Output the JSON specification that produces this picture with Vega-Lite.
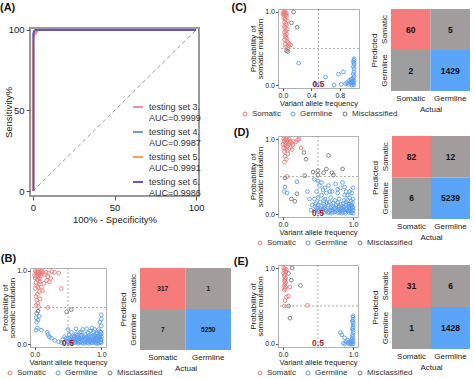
{
"$schema": "https://vega.github.io/schema/vega-lite/v6.json",
"padding": {"left": 0, "top": 2, "right": 1, "bottom": 0},
"config": {
 "font": "Liberation Sans",
 "view": {"stroke": "#b0b0b0", "strokeWidth": 1},
 "axis": {"grid": false, "domain": false, "tickColor": "#555", "tickSize": 2.5, "labelFontSize": 7, "labelColor": "#222", "titleFontSize": 8, "titleFontWeight": "normal", "titleColor": "#222", "labelPadding": 1, "titlePadding": 2, "labelFlush": false, "labelOverlap": false},
 "title": {"fontSize": 11, "fontWeight": "bold", "anchor": "start", "frame": "bounds", "color": "#111"},
 "legend": {"labelFontSize": 8, "labelColor": "#333", "symbolSize": 16, "symbolStrokeWidth": 1}
},
"datasets": {
 "roc": [
  {"set": "testing set 3.|AUC=0.9999", "i": 1, "fpr": 0, "tpr": 0},
  {"set": "testing set 3.|AUC=0.9999", "i": 2, "fpr": 0, "tpr": 97},
  {"set": "testing set 3.|AUC=0.9999", "i": 3, "fpr": 0.5, "tpr": 98.5},
  {"set": "testing set 3.|AUC=0.9999", "i": 4, "fpr": 1.5, "tpr": 100},
  {"set": "testing set 3.|AUC=0.9999", "i": 5, "fpr": 100, "tpr": 100},
  {"set": "testing set 4.|AUC=0.9987", "i": 1, "fpr": 0, "tpr": 0},
  {"set": "testing set 4.|AUC=0.9987", "i": 2, "fpr": 0, "tpr": 96},
  {"set": "testing set 4.|AUC=0.9987", "i": 3, "fpr": 0.6, "tpr": 98},
  {"set": "testing set 4.|AUC=0.9987", "i": 4, "fpr": 2, "tpr": 99.5},
  {"set": "testing set 4.|AUC=0.9987", "i": 5, "fpr": 3, "tpr": 100},
  {"set": "testing set 4.|AUC=0.9987", "i": 6, "fpr": 100, "tpr": 100},
  {"set": "testing set 5.|AUC=0.9991", "i": 1, "fpr": 0, "tpr": 0},
  {"set": "testing set 5.|AUC=0.9991", "i": 2, "fpr": 0, "tpr": 95},
  {"set": "testing set 5.|AUC=0.9991", "i": 3, "fpr": 0.8, "tpr": 96.5},
  {"set": "testing set 5.|AUC=0.9991", "i": 4, "fpr": 1.8, "tpr": 97.5},
  {"set": "testing set 5.|AUC=0.9991", "i": 5, "fpr": 2.8, "tpr": 99.5},
  {"set": "testing set 5.|AUC=0.9991", "i": 6, "fpr": 4, "tpr": 100},
  {"set": "testing set 5.|AUC=0.9991", "i": 7, "fpr": 100, "tpr": 100},
  {"set": "testing set 6.|AUC=0.9986", "i": 1, "fpr": 0.4, "tpr": 0},
  {"set": "testing set 6.|AUC=0.9986", "i": 2, "fpr": 0.4, "tpr": 98},
  {"set": "testing set 6.|AUC=0.9986", "i": 3, "fpr": 0.8, "tpr": 99.5},
  {"set": "testing set 6.|AUC=0.9986", "i": 4, "fpr": 1.5, "tpr": 100},
  {"set": "testing set 6.|AUC=0.9986", "i": 5, "fpr": 100, "tpr": 100}
 ],
 "hB": [
  {"a": "Somatic", "p": "Somatic", "n": "317", "k": "SS"},
  {"a": "Germline", "p": "Somatic", "n": "1", "k": "SG"},
  {"a": "Somatic", "p": "Germline", "n": "7", "k": "GS"},
  {"a": "Germline", "p": "Germline", "n": "5250", "k": "GG"}
 ],
 "hC": [
  {"a": "Somatic", "p": "Somatic", "n": "60", "k": "SS"},
  {"a": "Germline", "p": "Somatic", "n": "5", "k": "SG"},
  {"a": "Somatic", "p": "Germline", "n": "2", "k": "GS"},
  {"a": "Germline", "p": "Germline", "n": "1429", "k": "GG"}
 ],
 "hD": [
  {"a": "Somatic", "p": "Somatic", "n": "82", "k": "SS"},
  {"a": "Germline", "p": "Somatic", "n": "12", "k": "SG"},
  {"a": "Somatic", "p": "Germline", "n": "6", "k": "GS"},
  {"a": "Germline", "p": "Germline", "n": "5239", "k": "GG"}
 ],
 "hE": [
  {"a": "Somatic", "p": "Somatic", "n": "31", "k": "SS"},
  {"a": "Germline", "p": "Somatic", "n": "6", "k": "SG"},
  {"a": "Somatic", "p": "Germline", "n": "1", "k": "GS"},
  {"a": "Germline", "p": "Germline", "n": "1428", "k": "GG"}
 ],
 "B": [
  {"x":0.01,"y":1.0,"c":"Somatic"},{"x":0.03,"y":0.99,"c":"Somatic"},{"x":0.05,"y":1.0,"c":"Somatic"},{"x":0.07,"y":0.98,"c":"Somatic"},{"x":0.09,"y":0.99,"c":"Somatic"},{"x":0.11,"y":1.0,"c":"Somatic"},{"x":0.02,"y":0.97,"c":"Somatic"},{"x":0.04,"y":0.96,"c":"Somatic"},{"x":0.06,"y":0.95,"c":"Somatic"},{"x":0.08,"y":0.97,"c":"Somatic"},{"x":0.1,"y":0.96,"c":"Somatic"},{"x":0.12,"y":0.98,"c":"Somatic"},{"x":0.0,"y":0.94,"c":"Somatic"},{"x":0.03,"y":0.93,"c":"Somatic"},{"x":0.05,"y":0.92,"c":"Somatic"},{"x":0.07,"y":0.9,"c":"Somatic"},{"x":0.09,"y":0.93,"c":"Somatic"},{"x":0.01,"y":0.9,"c":"Somatic"},{"x":0.04,"y":0.88,"c":"Somatic"},{"x":0.06,"y":0.86,"c":"Somatic"},{"x":0.02,"y":0.84,"c":"Somatic"},{"x":0.08,"y":0.85,"c":"Somatic"},{"x":0.03,"y":0.8,"c":"Somatic"},{"x":0.05,"y":0.78,"c":"Somatic"},{"x":0.01,"y":0.76,"c":"Somatic"},{"x":0.17,"y":0.98,"c":"Somatic"},{"x":0.21,"y":0.97,"c":"Somatic"},{"x":0.26,"y":0.99,"c":"Somatic"},{"x":0.3,"y":0.98,"c":"Somatic"},{"x":0.36,"y":0.97,"c":"Somatic"},{"x":0.15,"y":0.95,"c":"Somatic"},{"x":0.2,"y":0.92,"c":"Somatic"},{"x":0.24,"y":0.9,"c":"Somatic"},{"x":0.18,"y":0.87,"c":"Somatic"},{"x":0.14,"y":0.83,"c":"Somatic"},{"x":0.22,"y":0.85,"c":"Somatic"},{"x":0.4,"y":0.76,"c":"Somatic"},{"x":0.1,"y":0.78,"c":"Somatic"},{"x":0.07,"y":0.72,"c":"Somatic"},{"x":0.04,"y":0.68,"c":"Somatic"},{"x":0.08,"y":0.62,"c":"Somatic"},{"x":0.03,"y":0.6,"c":"Somatic"},{"x":0.05,"y":0.56,"c":"Somatic"},{"x":0.02,"y":0.53,"c":"Somatic"},{"x":0.06,"y":0.51,"c":"Somatic"},{"x":0.2,"y":0.5,"c":"Somatic"},{"x":0.12,"y":0.73,"c":"Somatic"},{"x":0.02,"y":0.65,"c":"Somatic"},
  {"x":0.05,"y":0.45,"c":"Misclassified"},{"x":0.48,"y":0.44,"c":"Misclassified"},{"x":0.55,"y":0.47,"c":"Misclassified"},{"x":0.55,"y":0.03,"c":"Misclassified"},{"x":0.03,"y":0.42,"c":"Misclassified"},
  {"x":0.02,"y":0.36,"c":"Germline"},{"x":0.05,"y":0.33,"c":"Germline"},{"x":0.03,"y":0.3,"c":"Germline"},{"x":0.07,"y":0.38,"c":"Germline"},{"x":0.04,"y":0.22,"c":"Germline"},{"x":0.02,"y":0.19,"c":"Germline"},{"x":0.1,"y":0.19,"c":"Germline"},{"x":0.2,"y":0.13,"c":"Germline"},{"x":0.22,"y":0.1,"c":"Germline"},{"x":0.25,"y":0.08,"c":"Germline"},{"x":0.19,"y":0.16,"c":"Germline"},{"x":0.3,"y":0.05,"c":"Germline"},{"x":0.4,"y":0.02,"c":"Germline"},{"x":0.42,"y":0.06,"c":"Germline"},{"x":0.45,"y":0.1,"c":"Germline"},{"x":0.5,"y":0.2,"c":"Germline"},{"x":0.52,"y":0.13,"c":"Germline"},{"x":0.48,"y":0.04,"c":"Germline"},{"x":0.55,"y":0.16,"c":"Germline"},{"x":0.57,"y":0.1,"c":"Germline"},{"x":0.6,"y":0.07,"c":"Germline"},{"x":0.62,"y":0.21,"c":"Germline"},{"x":0.64,"y":0.12,"c":"Germline"},{"x":0.66,"y":0.04,"c":"Germline"},{"x":0.68,"y":0.16,"c":"Germline"},{"x":0.7,"y":0.09,"c":"Germline"},{"x":0.72,"y":0.2,"c":"Germline"},{"x":0.74,"y":0.05,"c":"Germline"},{"x":0.76,"y":0.13,"c":"Germline"},{"x":0.78,"y":0.21,"c":"Germline"},{"x":0.8,"y":0.1,"c":"Germline"},{"x":0.82,"y":0.06,"c":"Germline"},{"x":0.84,"y":0.18,"c":"Germline"},{"x":0.86,"y":0.22,"c":"Germline"},{"x":0.88,"y":0.12,"c":"Germline"},{"x":0.9,"y":0.05,"c":"Germline"},{"x":0.92,"y":0.14,"c":"Germline"},{"x":0.94,"y":0.08,"c":"Germline"},{"x":0.96,"y":0.2,"c":"Germline"},{"x":0.98,"y":0.3,"c":"Germline"},{"x":1.0,"y":0.4,"c":"Germline"},{"x":1.0,"y":0.34,"c":"Germline"},{"x":1.0,"y":0.25,"c":"Germline"},{"x":0.99,"y":0.16,"c":"Germline"},{"x":1.0,"y":0.1,"c":"Germline"},{"x":0.5,"y":0.03,"c":"Germline"},{"x":0.53,"y":0.06,"c":"Germline"},{"x":0.56,"y":0.01,"c":"Germline"},{"x":0.58,"y":0.04,"c":"Germline"},{"x":0.61,"y":0.02,"c":"Germline"},{"x":0.63,"y":0.07,"c":"Germline"},{"x":0.65,"y":0.01,"c":"Germline"},{"x":0.67,"y":0.08,"c":"Germline"},{"x":0.69,"y":0.03,"c":"Germline"},{"x":0.71,"y":0.05,"c":"Germline"},{"x":0.73,"y":0.01,"c":"Germline"},{"x":0.75,"y":0.08,"c":"Germline"},{"x":0.77,"y":0.03,"c":"Germline"},{"x":0.79,"y":0.06,"c":"Germline"},{"x":0.81,"y":0.01,"c":"Germline"},{"x":0.83,"y":0.03,"c":"Germline"},{"x":0.85,"y":0.07,"c":"Germline"},{"x":0.87,"y":0.02,"c":"Germline"},{"x":0.89,"y":0.09,"c":"Germline"},{"x":0.91,"y":0.02,"c":"Germline"},{"x":0.93,"y":0.04,"c":"Germline"},{"x":0.95,"y":0.01,"c":"Germline"},{"x":0.97,"y":0.05,"c":"Germline"},{"x":0.99,"y":0.03,"c":"Germline"},{"x":1.0,"y":0.06,"c":"Germline"},{"x":0.96,"y":0.1,"c":"Germline"},{"x":0.92,"y":0.08,"c":"Germline"},{"x":0.86,"y":0.1,"c":"Germline"},{"x":0.8,"y":0.04,"c":"Germline"},{"x":0.7,"y":0.12,"c":"Germline"},{"x":0.6,"y":0.11,"c":"Germline"},{"x":0.54,"y":0.09,"c":"Germline"},{"x":0.47,"y":0.08,"c":"Germline"},{"x":0.44,"y":0.02,"c":"Germline"},{"x":0.36,"y":0.03,"c":"Germline"},{"x":0.98,"y":0.13,"c":"Germline"},{"x":0.94,"y":0.11,"c":"Germline"},{"x":0.88,"y":0.05,"c":"Germline"},{"x":0.84,"y":0.1,"c":"Germline"},{"x":0.76,"y":0.07,"c":"Germline"},{"x":0.66,"y":0.09,"c":"Germline"},
  {"x":0.51,"y":0.08,"c":"Germline"},{"x":0.53,"y":0.02,"c":"Germline"},{"x":0.55,"y":0.05,"c":"Germline"},{"x":0.57,"y":0.03,"c":"Germline"},{"x":0.59,"y":0.09,"c":"Germline"},{"x":0.61,"y":0.05,"c":"Germline"},{"x":0.63,"y":0.03,"c":"Germline"},{"x":0.65,"y":0.06,"c":"Germline"},{"x":0.67,"y":0.02,"c":"Germline"},{"x":0.69,"y":0.07,"c":"Germline"},{"x":0.71,"y":0.02,"c":"Germline"},{"x":0.73,"y":0.06,"c":"Germline"},{"x":0.75,"y":0.02,"c":"Germline"},{"x":0.77,"y":0.09,"c":"Germline"},{"x":0.79,"y":0.02,"c":"Germline"},{"x":0.81,"y":0.07,"c":"Germline"},{"x":0.83,"y":0.05,"c":"Germline"},{"x":0.85,"y":0.02,"c":"Germline"},{"x":0.87,"y":0.06,"c":"Germline"},{"x":0.89,"y":0.03,"c":"Germline"},{"x":0.91,"y":0.06,"c":"Germline"},{"x":0.93,"y":0.01,"c":"Germline"},{"x":0.95,"y":0.07,"c":"Germline"},{"x":0.97,"y":0.02,"c":"Germline"},{"x":0.99,"y":0.07,"c":"Germline"},{"x":1.0,"y":0.02,"c":"Germline"},{"x":0.98,"y":0.09,"c":"Germline"},{"x":0.9,"y":0.11,"c":"Germline"},{"x":0.82,"y":0.12,"c":"Germline"},{"x":0.74,"y":0.1,"c":"Germline"},{"x":0.64,"y":0.09,"c":"Germline"},{"x":0.58,"y":0.07,"c":"Germline"},{"x":0.62,"y":0.14,"c":"Germline"},{"x":0.7,"y":0.16,"c":"Germline"},{"x":0.8,"y":0.15,"c":"Germline"},{"x":0.88,"y":0.17,"c":"Germline"},{"x":0.94,"y":0.15,"c":"Germline"},{"x":1.0,"y":0.14,"c":"Germline"},{"x":0.97,"y":0.17,"c":"Germline"},{"x":0.9,"y":0.2,"c":"Germline"}
 ],
 "C": [
  {"x":0.01,"y":1.0,"c":"Somatic"},{"x":0.02,"y":0.99,"c":"Somatic"},{"x":0.03,"y":0.98,"c":"Somatic"},{"x":0.0,"y":0.97,"c":"Somatic"},{"x":0.04,"y":0.96,"c":"Somatic"},{"x":0.02,"y":0.95,"c":"Somatic"},{"x":0.05,"y":0.94,"c":"Somatic"},{"x":0.01,"y":0.92,"c":"Somatic"},{"x":0.03,"y":0.9,"c":"Somatic"},{"x":0.06,"y":0.88,"c":"Somatic"},{"x":0.02,"y":0.86,"c":"Somatic"},{"x":0.04,"y":0.84,"c":"Somatic"},{"x":0.05,"y":0.82,"c":"Somatic"},{"x":0.02,"y":0.8,"c":"Somatic"},{"x":0.03,"y":0.78,"c":"Somatic"},{"x":0.06,"y":0.76,"c":"Somatic"},{"x":0.04,"y":0.74,"c":"Somatic"},{"x":0.02,"y":0.72,"c":"Somatic"},{"x":0.05,"y":0.7,"c":"Somatic"},{"x":0.03,"y":0.68,"c":"Somatic"},{"x":0.04,"y":0.66,"c":"Somatic"},{"x":0.05,"y":0.64,"c":"Somatic"},{"x":0.02,"y":0.62,"c":"Somatic"},{"x":0.06,"y":0.6,"c":"Somatic"},{"x":0.07,"y":0.58,"c":"Somatic"},{"x":0.09,"y":0.56,"c":"Somatic"},{"x":0.11,"y":0.55,"c":"Somatic"},{"x":0.08,"y":0.54,"c":"Somatic"},{"x":0.04,"y":0.52,"c":"Somatic"},{"x":0.06,"y":0.5,"c":"Somatic"},{"x":0.03,"y":0.56,"c":"Somatic"},{"x":0.01,"y":0.98,"c":"Somatic"},{"x":0.03,"y":1.0,"c":"Somatic"},{"x":0.05,"y":0.98,"c":"Somatic"},
  {"x":0.15,"y":1.0,"c":"Misclassified"},{"x":0.12,"y":0.85,"c":"Misclassified"},{"x":0.2,"y":0.79,"c":"Misclassified"},{"x":0.05,"y":0.47,"c":"Misclassified"},{"x":0.07,"y":0.46,"c":"Misclassified"},
  {"x":0.22,"y":0.3,"c":"Germline"},{"x":0.6,"y":0.11,"c":"Germline"},{"x":0.45,"y":0.01,"c":"Germline"},{"x":0.48,"y":0.0,"c":"Germline"},{"x":0.52,"y":0.01,"c":"Germline"},{"x":0.72,"y":0.0,"c":"Germline"},{"x":0.78,"y":0.15,"c":"Germline"},{"x":0.85,"y":0.18,"c":"Germline"},{"x":0.82,"y":0.01,"c":"Germline"},{"x":0.88,"y":0.02,"c":"Germline"},{"x":0.9,"y":0.03,"c":"Germline"},{"x":0.92,"y":0.01,"c":"Germline"},{"x":0.94,"y":0.04,"c":"Germline"},{"x":0.95,"y":0.02,"c":"Germline"},{"x":0.96,"y":0.05,"c":"Germline"},{"x":0.97,"y":0.03,"c":"Germline"},{"x":0.98,"y":0.08,"c":"Germline"},{"x":0.99,"y":0.1,"c":"Germline"},{"x":1.0,"y":0.12,"c":"Germline"},{"x":0.99,"y":0.15,"c":"Germline"},{"x":1.0,"y":0.18,"c":"Germline"},{"x":1.0,"y":0.22,"c":"Germline"},{"x":0.99,"y":0.25,"c":"Germline"},{"x":1.0,"y":0.28,"c":"Germline"},{"x":1.0,"y":0.3,"c":"Germline"},{"x":0.99,"y":0.32,"c":"Germline"},{"x":1.0,"y":0.34,"c":"Germline"},{"x":1.0,"y":0.36,"c":"Germline"},{"x":0.98,"y":0.05,"c":"Germline"},{"x":0.99,"y":0.02,"c":"Germline"},{"x":1.0,"y":0.0,"c":"Germline"},{"x":0.97,"y":0.0,"c":"Germline"},{"x":0.93,"y":0.06,"c":"Germline"},{"x":0.96,"y":0.08,"c":"Germline"},{"x":1.0,"y":0.06,"c":"Germline"},{"x":0.99,"y":0.04,"c":"Germline"}
 ],
 "D": [
  {"x":0.01,"y":1.0,"c":"Somatic"},{"x":0.03,"y":0.99,"c":"Somatic"},{"x":0.05,"y":1.0,"c":"Somatic"},{"x":0.07,"y":0.98,"c":"Somatic"},{"x":0.09,"y":1.0,"c":"Somatic"},{"x":0.02,"y":0.97,"c":"Somatic"},{"x":0.04,"y":0.95,"c":"Somatic"},{"x":0.06,"y":0.96,"c":"Somatic"},{"x":0.08,"y":0.94,"c":"Somatic"},{"x":0.1,"y":0.97,"c":"Somatic"},{"x":0.0,"y":0.93,"c":"Somatic"},{"x":0.03,"y":0.92,"c":"Somatic"},{"x":0.05,"y":0.9,"c":"Somatic"},{"x":0.07,"y":0.91,"c":"Somatic"},{"x":0.01,"y":0.88,"c":"Somatic"},{"x":0.04,"y":0.87,"c":"Somatic"},{"x":0.06,"y":0.85,"c":"Somatic"},{"x":0.02,"y":0.83,"c":"Somatic"},{"x":0.12,"y":0.95,"c":"Somatic"},{"x":0.15,"y":0.97,"c":"Somatic"},{"x":0.18,"y":0.96,"c":"Somatic"},{"x":0.21,"y":0.99,"c":"Somatic"},{"x":0.23,"y":1.0,"c":"Somatic"},{"x":0.14,"y":0.92,"c":"Somatic"},{"x":0.11,"y":0.89,"c":"Somatic"},{"x":0.13,"y":0.86,"c":"Somatic"},{"x":0.07,"y":0.8,"c":"Somatic"},{"x":0.03,"y":0.77,"c":"Somatic"},{"x":0.05,"y":0.73,"c":"Somatic"},{"x":0.02,"y":0.69,"c":"Somatic"},{"x":0.26,"y":0.88,"c":"Somatic"},{"x":0.06,"y":0.5,"c":"Somatic"},
  {"x":0.3,"y":0.82,"c":"Misclassified"},{"x":0.33,"y":0.73,"c":"Misclassified"},{"x":0.31,"y":0.51,"c":"Misclassified"},{"x":0.43,"y":0.56,"c":"Misclassified"},{"x":0.5,"y":0.58,"c":"Misclassified"},{"x":0.5,"y":0.52,"c":"Misclassified"},{"x":0.65,"y":0.78,"c":"Misclassified"},{"x":0.62,"y":0.6,"c":"Misclassified"},{"x":0.72,"y":0.52,"c":"Misclassified"},{"x":0.85,"y":0.6,"c":"Misclassified"},{"x":0.03,"y":0.48,"c":"Misclassified"},{"x":0.2,"y":0.27,"c":"Misclassified"},{"x":0.12,"y":0.2,"c":"Misclassified"},{"x":0.17,"y":0.17,"c":"Misclassified"},{"x":0.58,"y":0.55,"c":"Misclassified"},{"x":0.7,"y":0.55,"c":"Misclassified"},
  {"x":0.03,"y":0.36,"c":"Germline"},{"x":0.02,"y":0.3,"c":"Germline"},{"x":0.06,"y":0.28,"c":"Germline"},{"x":0.2,"y":0.43,"c":"Germline"},{"x":0.45,"y":0.46,"c":"Germline"},{"x":0.5,"y":0.44,"c":"Germline"},{"x":0.52,"y":0.38,"c":"Germline"},{"x":0.55,"y":0.42,"c":"Germline"},{"x":0.6,"y":0.35,"c":"Germline"},{"x":0.62,"y":0.28,"c":"Germline"},{"x":0.48,"y":0.3,"c":"Germline"},{"x":0.5,"y":0.22,"c":"Germline"},{"x":0.55,"y":0.25,"c":"Germline"},{"x":0.58,"y":0.18,"c":"Germline"},{"x":0.45,"y":0.2,"c":"Germline"},{"x":0.42,"y":0.12,"c":"Germline"},{"x":0.65,"y":0.38,"c":"Germline"},{"x":0.7,"y":0.3,"c":"Germline"},{"x":0.68,"y":0.22,"c":"Germline"},{"x":0.72,"y":0.15,"c":"Germline"},{"x":0.75,"y":0.4,"c":"Germline"},{"x":0.78,"y":0.28,"c":"Germline"},{"x":0.8,"y":0.2,"c":"Germline"},{"x":0.82,"y":0.35,"c":"Germline"},{"x":0.85,"y":0.42,"c":"Germline"},{"x":0.88,"y":0.25,"c":"Germline"},{"x":0.9,"y":0.3,"c":"Germline"},{"x":0.92,"y":0.18,"c":"Germline"},{"x":0.95,"y":0.22,"c":"Germline"},{"x":0.98,"y":0.28,"c":"Germline"},{"x":1.0,"y":0.35,"c":"Germline"},{"x":0.97,"y":0.12,"c":"Germline"},{"x":0.99,"y":0.08,"c":"Germline"},{"x":0.93,"y":0.1,"c":"Germline"},{"x":0.86,"y":0.14,"c":"Germline"},{"x":0.8,"y":0.1,"c":"Germline"},{"x":0.75,"y":0.08,"c":"Germline"},{"x":0.7,"y":0.05,"c":"Germline"},{"x":0.65,"y":0.12,"c":"Germline"},{"x":0.6,"y":0.08,"c":"Germline"},{"x":0.55,"y":0.1,"c":"Germline"},{"x":0.52,"y":0.05,"c":"Germline"},{"x":0.5,"y":0.12,"c":"Germline"},{"x":0.48,"y":0.08,"c":"Germline"},{"x":0.45,"y":0.04,"c":"Germline"},{"x":0.58,"y":0.02,"c":"Germline"},{"x":0.62,"y":0.04,"c":"Germline"},{"x":0.66,"y":0.02,"c":"Germline"},{"x":0.7,"y":0.01,"c":"Germline"},{"x":0.74,"y":0.03,"c":"Germline"},{"x":0.78,"y":0.02,"c":"Germline"},{"x":0.82,"y":0.04,"c":"Germline"},{"x":0.84,"y":0.01,"c":"Germline"},{"x":0.88,"y":0.03,"c":"Germline"},{"x":0.9,"y":0.06,"c":"Germline"},{"x":0.94,"y":0.02,"c":"Germline"},{"x":0.96,"y":0.04,"c":"Germline"},{"x":1.0,"y":0.01,"c":"Germline"},{"x":1.0,"y":0.05,"c":"Germline"},{"x":0.98,"y":0.02,"c":"Germline"},{"x":0.92,"y":0.04,"c":"Germline"},{"x":0.86,"y":0.06,"c":"Germline"},{"x":0.8,"y":0.06,"c":"Germline"},{"x":0.76,"y":0.12,"c":"Germline"},{"x":0.68,"y":0.08,"c":"Germline"},{"x":0.63,"y":0.15,"c":"Germline"},{"x":0.57,"y":0.06,"c":"Germline"},{"x":0.53,"y":0.16,"c":"Germline"},{"x":0.47,"y":0.14,"c":"Germline"},{"x":0.6,"y":0.2,"c":"Germline"},{"x":0.72,"y":0.1,"c":"Germline"},{"x":0.84,"y":0.08,"c":"Germline"},{"x":0.9,"y":0.12,"c":"Germline"},{"x":0.96,"y":0.1,"c":"Germline"},{"x":0.99,"y":0.15,"c":"Germline"},{"x":1.0,"y":0.2,"c":"Germline"},{"x":0.87,"y":0.18,"c":"Germline"},{"x":0.78,"y":0.15,"c":"Germline"},{"x":0.4,"y":0.05,"c":"Germline"},{"x":0.38,"y":0.2,"c":"Germline"},{"x":0.35,"y":0.3,"c":"Germline"},
  {"x":0.51,"y":0.03,"c":"Germline"},{"x":0.54,"y":0.07,"c":"Germline"},{"x":0.56,"y":0.03,"c":"Germline"},{"x":0.59,"y":0.1,"c":"Germline"},{"x":0.61,"y":0.06,"c":"Germline"},{"x":0.64,"y":0.02,"c":"Germline"},{"x":0.67,"y":0.05,"c":"Germline"},{"x":0.69,"y":0.1,"c":"Germline"},{"x":0.71,"y":0.03,"c":"Germline"},{"x":0.73,"y":0.07,"c":"Germline"},{"x":0.77,"y":0.05,"c":"Germline"},{"x":0.79,"y":0.09,"c":"Germline"},{"x":0.81,"y":0.02,"c":"Germline"},{"x":0.83,"y":0.06,"c":"Germline"},{"x":0.85,"y":0.03,"c":"Germline"},{"x":0.87,"y":0.09,"c":"Germline"},{"x":0.89,"y":0.01,"c":"Germline"},{"x":0.91,"y":0.08,"c":"Germline"},{"x":0.93,"y":0.05,"c":"Germline"},{"x":0.95,"y":0.07,"c":"Germline"},{"x":0.97,"y":0.02,"c":"Germline"},{"x":0.99,"y":0.05,"c":"Germline"},{"x":1.0,"y":0.09,"c":"Germline"},{"x":0.98,"y":0.11,"c":"Germline"},{"x":0.94,"y":0.13,"c":"Germline"},{"x":0.9,"y":0.16,"c":"Germline"},{"x":0.86,"y":0.1,"c":"Germline"},{"x":0.82,"y":0.13,"c":"Germline"},{"x":0.74,"y":0.18,"c":"Germline"},{"x":0.66,"y":0.16,"c":"Germline"},{"x":0.58,"y":0.13,"c":"Germline"},{"x":0.5,"y":0.06,"c":"Germline"},{"x":0.46,"y":0.1,"c":"Germline"},{"x":0.95,"y":0.3,"c":"Germline"},{"x":0.92,"y":0.25,"c":"Germline"},{"x":0.88,"y":0.36,"c":"Germline"},{"x":0.78,"y":0.33,"c":"Germline"},{"x":0.67,"y":0.3,"c":"Germline"},{"x":0.57,"y":0.32,"c":"Germline"},{"x":0.97,"y":0.17,"c":"Germline"}
 ],
 "E": [
  {"x":0.01,"y":1.0,"c":"Somatic"},{"x":0.03,"y":0.99,"c":"Somatic"},{"x":0.02,"y":0.97,"c":"Somatic"},{"x":0.04,"y":0.95,"c":"Somatic"},{"x":0.01,"y":0.93,"c":"Somatic"},{"x":0.03,"y":0.91,"c":"Somatic"},{"x":0.02,"y":0.89,"c":"Somatic"},{"x":0.04,"y":0.87,"c":"Somatic"},{"x":0.03,"y":0.85,"c":"Somatic"},{"x":0.02,"y":0.83,"c":"Somatic"},{"x":0.04,"y":0.81,"c":"Somatic"},{"x":0.03,"y":0.79,"c":"Somatic"},{"x":0.02,"y":0.77,"c":"Somatic"},{"x":0.04,"y":0.75,"c":"Somatic"},{"x":0.03,"y":0.73,"c":"Somatic"},{"x":0.02,"y":0.71,"c":"Somatic"},{"x":0.1,"y":0.75,"c":"Somatic"},{"x":0.08,"y":0.63,"c":"Somatic"},{"x":0.05,"y":0.62,"c":"Somatic"},{"x":0.03,"y":0.57,"c":"Somatic"},{"x":0.02,"y":0.5,"c":"Somatic"},{"x":0.35,"y":0.51,"c":"Somatic"},{"x":0.05,"y":0.98,"c":"Somatic"},
  {"x":0.13,"y":1.0,"c":"Misclassified"},{"x":0.08,"y":0.93,"c":"Misclassified"},{"x":0.12,"y":0.84,"c":"Misclassified"},{"x":0.25,"y":0.77,"c":"Misclassified"},{"x":0.08,"y":0.5,"c":"Misclassified"},{"x":0.1,"y":0.34,"c":"Misclassified"},
  {"x":0.82,"y":0.15,"c":"Germline"},{"x":0.84,"y":0.12,"c":"Germline"},{"x":0.88,"y":0.08,"c":"Germline"},{"x":0.9,"y":0.03,"c":"Germline"},{"x":0.92,"y":0.05,"c":"Germline"},{"x":0.93,"y":0.01,"c":"Germline"},{"x":0.95,"y":0.0,"c":"Germline"},{"x":0.96,"y":0.02,"c":"Germline"},{"x":0.97,"y":0.04,"c":"Germline"},{"x":0.98,"y":0.06,"c":"Germline"},{"x":0.99,"y":0.08,"c":"Germline"},{"x":1.0,"y":0.1,"c":"Germline"},{"x":0.99,"y":0.12,"c":"Germline"},{"x":1.0,"y":0.15,"c":"Germline"},{"x":1.0,"y":0.18,"c":"Germline"},{"x":0.99,"y":0.2,"c":"Germline"},{"x":1.0,"y":0.22,"c":"Germline"},{"x":1.0,"y":0.25,"c":"Germline"},{"x":1.0,"y":0.28,"c":"Germline"},{"x":0.99,"y":0.3,"c":"Germline"},{"x":1.0,"y":0.32,"c":"Germline"},{"x":1.0,"y":0.35,"c":"Germline"},{"x":1.0,"y":0.37,"c":"Germline"},{"x":1.0,"y":0.0,"c":"Germline"},{"x":0.98,"y":0.01,"c":"Germline"},{"x":0.97,"y":0.0,"c":"Germline"},{"x":1.0,"y":0.03,"c":"Germline"},{"x":1.0,"y":0.05,"c":"Germline"},{"x":0.95,"y":0.03,"c":"Germline"},{"x":0.86,"y":0.01,"c":"Germline"},{"x":0.88,"y":0.0,"c":"Germline"}
 ]
},
"resolve": {"scale": {"stroke": "independent", "fill": "independent", "color": "independent"}, "legend": {"stroke": "independent", "fill": "independent", "color": "independent"}},
"spacing": 0,
"hconcat": [
 {
  "spacing": 28,
  "resolve": {"scale": {"stroke": "independent", "fill": "independent", "color": "independent"}, "legend": {"stroke": "independent", "fill": "independent", "color": "independent"}},
  "vconcat": [
   {
    "spacing": 10,
    "resolve": {"scale": {"color": "independent"}, "legend": {"color": "independent"}},
    "vconcat": [
     {
      "title": {"text": "(A)", "offset": -4, "dx": -30},
      "width": 1, "height": 1,
      "view": {"stroke": null},
      "data": {"values": [{}]},
      "mark": {"type": "point", "opacity": 0, "size": 1}
     },
     {
      "width": 169, "height": 168,
      "view": {"stroke": "#999", "strokeWidth": 2},
      "layer": [
       {"data": {"values": [{"fpr": 0, "tpr": 0}, {"fpr": 100, "tpr": 100}]},
        "mark": {"type": "line", "strokeDash": [4, 3], "color": "#999", "strokeWidth": 1},
        "encoding": {"x": {"field": "fpr", "type": "quantitative"}, "y": {"field": "tpr", "type": "quantitative"}}},
       {"data": {"name": "roc"},
        "mark": {"type": "line", "strokeWidth": 2},
        "encoding": {
         "x": {"field": "fpr", "type": "quantitative", "scale": {"domain": [-1.8, 101.8], "nice": false}, "axis": {"values": [0, 50, 100], "title": "100% - Specificity%", "labelFontSize": 9.5, "titleFontSize": 9.5, "tickSize": 4, "labelPadding": 2, "titlePadding": 3}},
         "y": {"field": "tpr", "type": "quantitative", "scale": {"domain": [-3.1, 101.2], "nice": false}, "axis": {"values": [0, 50, 100], "title": "Sensitivity%", "labelFontSize": 9.5, "titleFontSize": 9.5, "tickSize": 4, "labelPadding": 2, "titlePadding": -5}},
         "color": {"field": "set", "type": "nominal", "scale": {"domain": ["testing set 3.|AUC=0.9999", "testing set 4.|AUC=0.9987", "testing set 5.|AUC=0.9991", "testing set 6.|AUC=0.9986"], "range": ["#e8919f", "#6a9be8", "#f0a25a", "#6655c8"]},
          "legend": {"orient": "bottom-right", "title": null, "labelExpr": "split(datum.label, '|')", "symbolType": "stroke", "symbolStrokeWidth": 2, "symbolSize": 100, "labelFontSize": 9, "labelColor": "#333", "rowPadding": 3, "offset": -2, "labelOffset": 5}},
         "order": {"field": "i", "type": "quantitative"}
        }}
      ]
     }
    ]
   },
   {
    "title": {"text": "(B)", "offset": 2},
    "bounds": "flush",
    "spacing": 34,
    "resolve": {"scale": {"stroke": "independent", "fill": "independent"}, "legend": {"stroke": "independent", "fill": "independent"}},
    "hconcat": [
     {
      "width": 76, "height": 79,
      "layer": [
       {"data": {"values": [{}]}, "mark": {"type": "rule", "color": "#999", "strokeDash": [2, 2], "strokeWidth": 0.8}, "encoding": {"x": {"datum": 0.5, "type": "quantitative", "scale": {"domain": [-0.07, 1.07], "nice": false}, "axis": {"values": [0, 0.2, 0.4, 0.6, 0.8, 1], "format": ".1f", "labelOverlap": false, "labelPadding": 1, "title": "Variant allele frequency", "titleFontSize": 7.5, "titlePadding": 1}}}},
       {"data": {"values": [{}]}, "mark": {"type": "rule", "color": "#999", "strokeDash": [2, 2], "strokeWidth": 0.8}, "encoding": {"y": {"datum": 0.5, "type": "quantitative", "scale": {"domain": [-0.04, 1.04], "nice": false}, "axis": {"values": [0, 0.2, 0.4, 0.5, 0.6, 0.8, 1], "format": ".1f", "labelOverlap": false, "titlePadding": 0, "titleLineHeight": 7.5, "labelColor": {"condition": {"test": "datum.value == 0.5", "value": "#a5262d"}, "value": "#222"}, "labelFontWeight": {"condition": {"test": "datum.value == 0.5", "value": "bold"}, "value": "normal"}, "title": ["Probability of", "somatic mutation"]}}}},
       {"data": {"name": "B"}, "mark": {"type": "point", "filled": false, "size": 14, "strokeWidth": 0.9, "opacity": 1},
        "encoding": {
         "x": {"field": "x", "type": "quantitative", "scale": {"domain": [-0.07, 1.07], "nice": false}, "axis": {"values": [0, 0.2, 0.4, 0.6, 0.8, 1], "format": ".1f", "labelOverlap": false, "labelPadding": 1, "title": "Variant allele frequency", "titleFontSize": 7.5, "titlePadding": 1}},
         "y": {"field": "y", "type": "quantitative", "scale": {"domain": [-0.04, 1.04], "nice": false}, "axis": {"values": [0, 0.2, 0.4, 0.5, 0.6, 0.8, 1], "format": ".1f", "labelOverlap": false, "titlePadding": 0, "titleLineHeight": 7.5, "labelColor": {"condition": {"test": "datum.value == 0.5", "value": "#a5262d"}, "value": "#222"}, "labelFontWeight": {"condition": {"test": "datum.value == 0.5", "value": "bold"}, "value": "normal"}, "title": ["Probability of", "somatic mutation"]}},
         "stroke": {"field": "c", "type": "nominal", "scale": {"domain": ["Somatic", "Germline", "Misclassified"], "range": ["#ee7b7b", "#5a9eee", "#777777"]}, "legend": {"orient": "none", "legendX": -24, "legendY": 101, "direction": "horizontal", "title": null, "columnPadding": 8, "labelOffset": 3}}
        }},
       {"data": {"values": [{}]}, "mark": {"type": "text", "text": "0.5", "color": "#a5262d", "fontWeight": "bold", "fontSize": 8.5, "baseline": "middle"}, "encoding": {"x": {"datum": 0.5, "type": "quantitative"}, "y": {"datum": 0.01, "type": "quantitative"}}}
      ]
     },
     {
      "width": 91, "height": 82,
      "view": {"stroke": null},
      "data": {"name": "hB"},
      "encoding": {
       "x": {"field": "a", "type": "nominal", "sort": ["Somatic", "Germline"], "scale": {"paddingInner": 0, "paddingOuter": 0}, "axis": {"title": "Actual", "labelAngle": 0, "ticks": false, "labelFontSize": 8, "labelPadding": 3, "titlePadding": 3}},
       "y": {"field": "p", "type": "nominal", "sort": ["Somatic", "Germline"], "scale": {"paddingInner": 0, "paddingOuter": 0}, "axis": {"title": "Predicted", "labelAngle": -90, "ticks": false, "labelFontSize": 8, "labelPadding": 3}}
      },
      "layer": [
       {"mark": "rect", "encoding": {"fill": {"field": "k", "type": "nominal", "scale": {"domain": ["SS", "SG", "GS", "GG"], "range": ["#f67c7c", "#a39c9c", "#9e9e9e", "#5aa5f7"]}, "legend": null}}},
       {"mark": {"type": "text", "fontWeight": "bold", "fontSize": 6.5, "color": "#111"}, "encoding": {"text": {"field": "n", "type": "nominal"}}}
      ]
     }
    ]
   }
  ]
 },
 {
  "spacing": 7,
  "resolve": {"scale": {"stroke": "independent", "fill": "independent", "color": "independent"}, "legend": {"stroke": "independent", "fill": "independent", "color": "independent"}},
  "vconcat": [
   {
    "title": {"text": "(C)", "offset": -6, "dx": -9},
    "bounds": "flush",
    "spacing": 32,
    "resolve": {"scale": {"stroke": "independent", "fill": "independent"}, "legend": {"stroke": "independent", "fill": "independent"}},
    "hconcat": [
     {
      "width": 81, "height": 79,
      "layer": [
       {"data": {"values": [{}]}, "mark": {"type": "rule", "color": "#999", "strokeDash": [2, 2], "strokeWidth": 0.8}, "encoding": {"x": {"datum": 0.5, "type": "quantitative", "scale": {"domain": [-0.07, 1.07], "nice": false}, "axis": {"values": [0, 0.2, 0.4, 0.6, 0.8, 1], "format": ".1f", "labelOverlap": false, "labelPadding": 1, "title": "Variant allele frequency", "titleFontSize": 7.5, "titlePadding": 1}}}},
       {"data": {"values": [{}]}, "mark": {"type": "rule", "color": "#999", "strokeDash": [2, 2], "strokeWidth": 0.8}, "encoding": {"y": {"datum": 0.5, "type": "quantitative", "scale": {"domain": [-0.04, 1.04], "nice": false}, "axis": {"values": [0, 0.2, 0.4, 0.5, 0.6, 0.8, 1], "format": ".1f", "labelOverlap": false, "titlePadding": 0, "titleLineHeight": 7.5, "labelColor": {"condition": {"test": "datum.value == 0.5", "value": "#a5262d"}, "value": "#222"}, "labelFontWeight": {"condition": {"test": "datum.value == 0.5", "value": "bold"}, "value": "normal"}, "title": ["Probability of", "somatic mutation"]}}}},
       {"data": {"name": "C"}, "mark": {"type": "point", "filled": false, "size": 14, "strokeWidth": 0.9, "opacity": 1},
        "encoding": {
         "x": {"field": "x", "type": "quantitative", "scale": {"domain": [-0.07, 1.07], "nice": false}, "axis": {"values": [0, 0.2, 0.4, 0.6, 0.8, 1], "format": ".1f", "labelOverlap": false, "labelPadding": 1, "title": "Variant allele frequency", "titleFontSize": 7.5, "titlePadding": 1}},
         "y": {"field": "y", "type": "quantitative", "scale": {"domain": [-0.04, 1.04], "nice": false}, "axis": {"values": [0, 0.2, 0.4, 0.5, 0.6, 0.8, 1], "format": ".1f", "labelOverlap": false, "titlePadding": 0, "titleLineHeight": 7.5, "labelColor": {"condition": {"test": "datum.value == 0.5", "value": "#a5262d"}, "value": "#222"}, "labelFontWeight": {"condition": {"test": "datum.value == 0.5", "value": "bold"}, "value": "normal"}, "title": ["Probability of", "somatic mutation"]}},
         "stroke": {"field": "c", "type": "nominal", "scale": {"domain": ["Somatic", "Germline", "Misclassified"], "range": ["#ee7b7b", "#5a9eee", "#777777"]}, "legend": {"orient": "none", "legendX": -37, "legendY": 101, "direction": "horizontal", "title": null, "columnPadding": 8, "labelOffset": 3}}
        }},
       {"data": {"values": [{}]}, "mark": {"type": "text", "text": "0.5", "color": "#a5262d", "fontWeight": "bold", "fontSize": 8.5, "baseline": "middle"}, "encoding": {"x": {"datum": 0.5, "type": "quantitative"}, "y": {"datum": 0.01, "type": "quantitative"}}}
      ]
     },
     {
      "width": 79, "height": 82,
      "view": {"stroke": null},
      "data": {"name": "hC"},
      "encoding": {
       "x": {"field": "a", "type": "nominal", "sort": ["Somatic", "Germline"], "scale": {"paddingInner": 0, "paddingOuter": 0}, "axis": {"title": "Actual", "labelAngle": 0, "ticks": false, "labelFontSize": 8, "labelPadding": 3, "titlePadding": 3}},
       "y": {"field": "p", "type": "nominal", "sort": ["Somatic", "Germline"], "scale": {"paddingInner": 0, "paddingOuter": 0}, "axis": {"title": "Predicted", "labelAngle": -90, "ticks": false, "labelFontSize": 8, "labelPadding": 3}}
      },
      "layer": [
       {"mark": "rect", "encoding": {"fill": {"field": "k", "type": "nominal", "scale": {"domain": ["SS", "SG", "GS", "GG"], "range": ["#f67c7c", "#a39c9c", "#9e9e9e", "#5aa5f7"]}, "legend": null}}},
       {"mark": {"type": "text", "fontWeight": "bold", "fontSize": 8.5, "color": "#111"}, "encoding": {"text": {"field": "n", "type": "nominal"}}}
      ]
     }
    ]
   },
   {
    "title": {"text": "(D)", "offset": -3, "dx": -15},
    "bounds": "flush",
    "spacing": 34,
    "resolve": {"scale": {"stroke": "independent", "fill": "independent"}, "legend": {"stroke": "independent", "fill": "independent"}},
    "hconcat": [
     {
      "width": 80, "height": 81,
      "layer": [
       {"data": {"values": [{}]}, "mark": {"type": "rule", "color": "#999", "strokeDash": [2, 2], "strokeWidth": 0.8}, "encoding": {"x": {"datum": 0.5, "type": "quantitative", "scale": {"domain": [-0.07, 1.07], "nice": false}, "axis": {"values": [0, 0.2, 0.4, 0.6, 0.8, 1], "format": ".1f", "labelOverlap": false, "labelPadding": 1, "title": "Variant allele frequency", "titleFontSize": 7.5, "titlePadding": 1}}}},
       {"data": {"values": [{}]}, "mark": {"type": "rule", "color": "#999", "strokeDash": [2, 2], "strokeWidth": 0.8}, "encoding": {"y": {"datum": 0.5, "type": "quantitative", "scale": {"domain": [-0.04, 1.04], "nice": false}, "axis": {"values": [0, 0.2, 0.4, 0.5, 0.6, 0.8, 1], "format": ".1f", "labelOverlap": false, "titlePadding": 0, "titleLineHeight": 7.5, "labelColor": {"condition": {"test": "datum.value == 0.5", "value": "#a5262d"}, "value": "#222"}, "labelFontWeight": {"condition": {"test": "datum.value == 0.5", "value": "bold"}, "value": "normal"}, "title": ["Probability of", "somatic mutation"]}}}},
       {"data": {"name": "D"}, "mark": {"type": "point", "filled": false, "size": 14, "strokeWidth": 0.9, "opacity": 1},
        "encoding": {
         "x": {"field": "x", "type": "quantitative", "scale": {"domain": [-0.07, 1.07], "nice": false}, "axis": {"values": [0, 0.2, 0.4, 0.6, 0.8, 1], "format": ".1f", "labelOverlap": false, "labelPadding": 1, "title": "Variant allele frequency", "titleFontSize": 7.5, "titlePadding": 1}},
         "y": {"field": "y", "type": "quantitative", "scale": {"domain": [-0.04, 1.04], "nice": false}, "axis": {"values": [0, 0.2, 0.4, 0.5, 0.6, 0.8, 1], "format": ".1f", "labelOverlap": false, "titlePadding": 0, "titleLineHeight": 7.5, "labelColor": {"condition": {"test": "datum.value == 0.5", "value": "#a5262d"}, "value": "#222"}, "labelFontWeight": {"condition": {"test": "datum.value == 0.5", "value": "bold"}, "value": "normal"}, "title": ["Probability of", "somatic mutation"]}},
         "stroke": {"field": "c", "type": "nominal", "scale": {"domain": ["Somatic", "Germline", "Misclassified"], "range": ["#ee7b7b", "#5a9eee", "#777777"]}, "legend": {"orient": "none", "legendX": -22, "legendY": 103, "direction": "horizontal", "title": null, "columnPadding": 8, "labelOffset": 3}}
        }},
       {"data": {"values": [{}]}, "mark": {"type": "text", "text": "0.5", "color": "#a5262d", "fontWeight": "bold", "fontSize": 8.5, "baseline": "middle"}, "encoding": {"x": {"datum": 0.5, "type": "quantitative"}, "y": {"datum": 0.01, "type": "quantitative"}}}
      ]
     },
     {
      "width": 78, "height": 83,
      "view": {"stroke": null},
      "data": {"name": "hD"},
      "encoding": {
       "x": {"field": "a", "type": "nominal", "sort": ["Somatic", "Germline"], "scale": {"paddingInner": 0, "paddingOuter": 0}, "axis": {"title": "Actual", "labelAngle": 0, "ticks": false, "labelFontSize": 8, "labelPadding": 3, "titlePadding": 3}},
       "y": {"field": "p", "type": "nominal", "sort": ["Somatic", "Germline"], "scale": {"paddingInner": 0, "paddingOuter": 0}, "axis": {"title": "Predicted", "labelAngle": -90, "ticks": false, "labelFontSize": 8, "labelPadding": 3}}
      },
      "layer": [
       {"mark": "rect", "encoding": {"fill": {"field": "k", "type": "nominal", "scale": {"domain": ["SS", "SG", "GS", "GG"], "range": ["#f67c7c", "#a39c9c", "#9e9e9e", "#5aa5f7"]}, "legend": null}}},
       {"mark": {"type": "text", "fontWeight": "bold", "fontSize": 8.5, "color": "#111"}, "encoding": {"text": {"field": "n", "type": "nominal"}}}
      ]
     }
    ]
   },
   {
    "title": {"text": "(E)", "offset": -3, "dx": -15},
    "bounds": "flush",
    "spacing": 34,
    "resolve": {"scale": {"stroke": "independent", "fill": "independent"}, "legend": {"stroke": "independent", "fill": "independent"}},
    "hconcat": [
     {
      "width": 80, "height": 82,
      "layer": [
       {"data": {"values": [{}]}, "mark": {"type": "rule", "color": "#999", "strokeDash": [2, 2], "strokeWidth": 0.8}, "encoding": {"x": {"datum": 0.5, "type": "quantitative", "scale": {"domain": [-0.07, 1.07], "nice": false}, "axis": {"values": [0, 0.2, 0.4, 0.6, 0.8, 1], "format": ".1f", "labelOverlap": false, "labelPadding": 1, "title": "Variant allele frequency", "titleFontSize": 7.5, "titlePadding": 1}}}},
       {"data": {"values": [{}]}, "mark": {"type": "rule", "color": "#999", "strokeDash": [2, 2], "strokeWidth": 0.8}, "encoding": {"y": {"datum": 0.5, "type": "quantitative", "scale": {"domain": [-0.04, 1.04], "nice": false}, "axis": {"values": [0, 0.2, 0.4, 0.5, 0.6, 0.8, 1], "format": ".1f", "labelOverlap": false, "titlePadding": 0, "titleLineHeight": 7.5, "labelColor": {"condition": {"test": "datum.value == 0.5", "value": "#a5262d"}, "value": "#222"}, "labelFontWeight": {"condition": {"test": "datum.value == 0.5", "value": "bold"}, "value": "normal"}, "title": ["Probability of", "somatic mutation"]}}}},
       {"data": {"name": "E"}, "mark": {"type": "point", "filled": false, "size": 14, "strokeWidth": 0.9, "opacity": 1},
        "encoding": {
         "x": {"field": "x", "type": "quantitative", "scale": {"domain": [-0.07, 1.07], "nice": false}, "axis": {"values": [0, 0.2, 0.4, 0.6, 0.8, 1], "format": ".1f", "labelOverlap": false, "labelPadding": 1, "title": "Variant allele frequency", "titleFontSize": 7.5, "titlePadding": 1}},
         "y": {"field": "y", "type": "quantitative", "scale": {"domain": [-0.04, 1.04], "nice": false}, "axis": {"values": [0, 0.2, 0.4, 0.5, 0.6, 0.8, 1], "format": ".1f", "labelOverlap": false, "titlePadding": 0, "titleLineHeight": 7.5, "labelColor": {"condition": {"test": "datum.value == 0.5", "value": "#a5262d"}, "value": "#222"}, "labelFontWeight": {"condition": {"test": "datum.value == 0.5", "value": "bold"}, "value": "normal"}, "title": ["Probability of", "somatic mutation"]}},
         "stroke": {"field": "c", "type": "nominal", "scale": {"domain": ["Somatic", "Germline", "Misclassified"], "range": ["#ee7b7b", "#5a9eee", "#777777"]}, "legend": {"orient": "none", "legendX": -22, "legendY": 104, "direction": "horizontal", "title": null, "columnPadding": 8, "labelOffset": 3}}
        }},
       {"data": {"values": [{}]}, "mark": {"type": "text", "text": "0.5", "color": "#a5262d", "fontWeight": "bold", "fontSize": 8.5, "baseline": "middle"}, "encoding": {"x": {"datum": 0.5, "type": "quantitative"}, "y": {"datum": 0.01, "type": "quantitative"}}}
      ]
     },
     {
      "width": 78, "height": 84,
      "view": {"stroke": null},
      "data": {"name": "hE"},
      "encoding": {
       "x": {"field": "a", "type": "nominal", "sort": ["Somatic", "Germline"], "scale": {"paddingInner": 0, "paddingOuter": 0}, "axis": {"title": "Actual", "labelAngle": 0, "ticks": false, "labelFontSize": 8, "labelPadding": 3, "titlePadding": 3}},
       "y": {"field": "p", "type": "nominal", "sort": ["Somatic", "Germline"], "scale": {"paddingInner": 0, "paddingOuter": 0}, "axis": {"title": "Predicted", "labelAngle": -90, "ticks": false, "labelFontSize": 8, "labelPadding": 3}}
      },
      "layer": [
       {"mark": "rect", "encoding": {"fill": {"field": "k", "type": "nominal", "scale": {"domain": ["SS", "SG", "GS", "GG"], "range": ["#f67c7c", "#a39c9c", "#9e9e9e", "#5aa5f7"]}, "legend": null}}},
       {"mark": {"type": "text", "fontWeight": "bold", "fontSize": 8.5, "color": "#111"}, "encoding": {"text": {"field": "n", "type": "nominal"}}}
      ]
     }
    ]
   }
  ]
 }
]
}
